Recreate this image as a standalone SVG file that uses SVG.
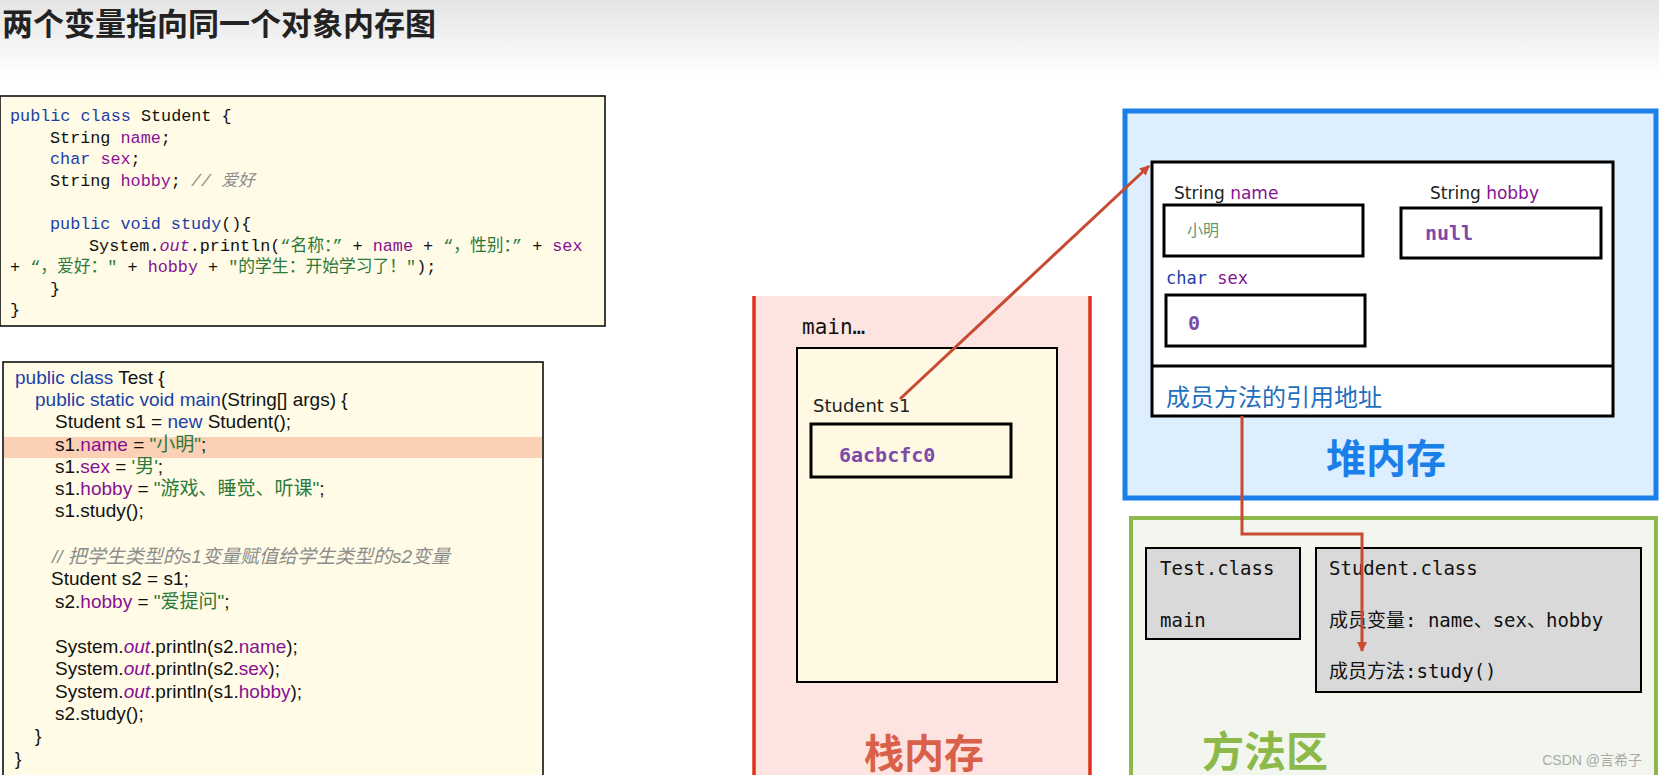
<svg xmlns="http://www.w3.org/2000/svg" width="1659" height="775" viewBox="0 0 1659 775">
<defs>
<linearGradient id="hdr" x1="0" y1="0" x2="0" y2="1"><stop offset="0" stop-color="#e4e4e4"/><stop offset="1" stop-color="#ffffff"/></linearGradient>
<marker id="ah" markerWidth="10" markerHeight="10" refX="9" refY="5" orient="auto" markerUnits="userSpaceOnUse" viewBox="0 0 10 10"><path d="M0,0 L10,5 L0,10 z" fill="#c84a30"/></marker>
</defs>
<style>
.mono{font-family:"Liberation Mono","DejaVu Sans Mono","Noto Sans CJK SC",monospace}
.dmono{font-family:"DejaVu Sans Mono","Noto Sans CJK SC",monospace}
.sans{font-family:"Liberation Sans",Arial,"Noto Sans CJK SC",sans-serif}
.dsans{font-family:"DejaVu Sans","Noto Sans CJK SC",sans-serif}
.cjk{font-family:"Noto Sans CJK SC",sans-serif}
.kw{fill:#1c3fa8}.fd{fill:#871094}.st{fill:#2b7a3b}.cm{fill:#8c8c8c;font-style:italic}
.code{font-size:16.8px;fill:#111}
.tcode{font-size:19px;fill:#111}
.blk{fill:none;stroke:#000;stroke-width:3}
.conn{fill:none;stroke:#c84a30;stroke-width:3}
</style>
<rect x="0" y="0" width="1659" height="775" fill="#fff"/>
<rect x="0" y="0" width="1659" height="75" fill="url(#hdr)"/>
<text x="2" y="35" class="cjk" font-size="31" font-weight="bold" fill="#222">两个变量指向同一个对象内存图</text>

<g id="student-code">
<rect x="0" y="96" width="605" height="230" fill="#fffbe6" stroke="#000" stroke-width="1.5"/>
<text class="mono code">
<tspan x="10" y="121"><tspan class="kw">public class</tspan> Student {</tspan>
<tspan x="50" y="142.5">String <tspan class="fd">name</tspan>;</tspan>
<tspan x="50" y="164"><tspan class="kw">char</tspan> <tspan class="fd">sex</tspan>;</tspan>
<tspan x="50" y="185.5">String <tspan class="fd">hobby</tspan>; <tspan class="cm">// 爱好</tspan></tspan>
<tspan x="50" y="229"><tspan class="kw">public void</tspan> <tspan class="kw">study</tspan>(){</tspan>
<tspan x="89" y="250.5">System.<tspan class="fd" font-style="italic">out</tspan>.println(<tspan class="st">“名称：”</tspan> + <tspan class="fd">name</tspan> + <tspan class="st">“，性别：”</tspan> + <tspan class="fd">sex</tspan></tspan>
<tspan x="10" y="272">+ <tspan class="st">“，爱好："</tspan> + <tspan class="fd">hobby</tspan> + <tspan class="st">"的学生：开始学习了！"</tspan>);</tspan>
<tspan x="50" y="293.5">}</tspan>
<tspan x="10" y="315">}</tspan>
</text>
</g>

<g id="test-code">
<rect x="3" y="362" width="540" height="420" fill="#fffbe6" stroke="#000" stroke-width="1.5"/>
<rect x="4" y="437" width="538" height="21" fill="#fcd0b4"/>
<text class="sans tcode">
<tspan x="15" y="384"><tspan class="kw">public class</tspan> Test {</tspan>
<tspan x="35" y="406"><tspan class="kw">public static void main</tspan>(String[] args) {</tspan>
<tspan x="55" y="428">Student s1 = <tspan class="kw">new</tspan> Student();</tspan>
<tspan x="55" y="451">s1.<tspan class="fd">name</tspan> = <tspan class="st">"小明"</tspan>;</tspan>
<tspan x="55" y="473">s1.<tspan class="fd">sex</tspan> = <tspan class="st">'男'</tspan>;</tspan>
<tspan x="55" y="495">s1.<tspan class="fd">hobby</tspan> = <tspan class="st">"游戏、睡觉、听课"</tspan>;</tspan>
<tspan x="55" y="517">s1.study();</tspan>
<tspan x="52" y="563" class="cm">// 把学生类型的s1变量赋值给学生类型的s2变量</tspan>
<tspan x="51" y="585">Student s2 = s1;</tspan>
<tspan x="55" y="608">s2.<tspan class="fd">hobby</tspan> = <tspan class="st">"爱提问"</tspan>;</tspan>
<tspan x="55" y="653">System.<tspan class="fd" font-style="italic">out</tspan>.println(s2.<tspan class="fd">name</tspan>);</tspan>
<tspan x="55" y="675">System.<tspan class="fd" font-style="italic">out</tspan>.println(s2.<tspan class="fd">sex</tspan>);</tspan>
<tspan x="55" y="698">System.<tspan class="fd" font-style="italic">out</tspan>.println(s1.<tspan class="fd">hobby</tspan>);</tspan>
<tspan x="55" y="720">s2.study();</tspan>
<tspan x="35" y="742">}</tspan>
<tspan x="15" y="765">}</tspan>
</text>
</g>

<g id="stack">
<rect x="753" y="296" width="338" height="485" fill="#fde4e1"/>
<line x1="754" y1="296" x2="754" y2="775" stroke="#e0301a" stroke-width="3.5"/>
<line x1="1090" y1="296" x2="1090" y2="775" stroke="#e0301a" stroke-width="3.5"/>
<text x="802" y="334" class="dmono" font-size="21" fill="#111">main…</text>
<rect x="797" y="348" width="260" height="334" fill="#fff9e3" stroke="#000" stroke-width="2"/>
<text x="813" y="412" class="dsans" font-size="18" fill="#222">Student s1</text>
<rect x="811" y="424" width="200" height="53" class="blk"/>
<text x="839" y="462" class="dmono" font-size="20" font-weight="bold" fill="#7c4aa8">6acbcfc0</text>
<text x="924" y="768" class="cjk" font-size="40" font-weight="bold" fill="#d9614a" text-anchor="middle">栈内存</text>
</g>

<g id="heap">
<rect x="1125" y="111" width="531" height="387" fill="#ddeeff" stroke="#1a7fe8" stroke-width="5"/>
<rect x="1152" y="162" width="461" height="254" fill="#fff" stroke="#000" stroke-width="3"/>
<line x1="1152" y1="366" x2="1613" y2="366" stroke="#000" stroke-width="3"/>
<text x="1174" y="199" class="dsans" font-size="17" fill="#222">String <tspan class="fd">name</tspan></text>
<rect x="1164" y="205" width="199" height="51" class="blk"/>
<text x="1187" y="236" class="cjk" font-size="16" fill="#5f9a72">小明</text>
<text x="1430" y="199" class="dsans" font-size="17" fill="#222">String <tspan class="fd">hobby</tspan></text>
<rect x="1401" y="208" width="200" height="50" class="blk"/>
<text x="1425" y="240" class="dmono" font-size="20" font-weight="bold" fill="#7c4aa8">null</text>
<text x="1166" y="284" class="dmono" font-size="17" fill="#1c3fa8">char <tspan class="fd">sex</tspan></text>
<rect x="1166" y="295" width="199" height="51" class="blk"/>
<text x="1188" y="330" class="dmono" font-size="20" font-weight="bold" fill="#7c4aa8">0</text>
<text x="1166" y="406" class="cjk" font-size="24" fill="#1f6fc0">成员方法的引用地址</text>
<text x="1386" y="473" class="cjk" font-size="40" font-weight="bold" fill="#1a7fe8" text-anchor="middle">堆内存</text>
</g>

<g id="method-area">
<rect x="1131" y="518" width="525" height="265" fill="#f3f6ee" stroke="#8db84a" stroke-width="4"/>
<rect x="1146" y="548" width="154" height="91" fill="#d9d9d9" stroke="#000" stroke-width="2"/>
<text x="1160" y="575" class="dmono" font-size="19" fill="#111">Test.class</text>
<text x="1160" y="627" class="dmono" font-size="19" fill="#111">main</text>
<rect x="1316" y="548" width="325" height="144" fill="#d9d9d9" stroke="#000" stroke-width="2"/>
<text x="1329" y="575" class="dmono" font-size="19" fill="#111">Student.class</text>
<text x="1329" y="627" class="dmono" font-size="19" fill="#111">成员变量: name、sex、hobby</text>
<text x="1329" y="678" class="dmono" font-size="19" fill="#111">成员方法:study()</text>
<text x="1265" y="767" class="cjk" font-size="42" font-weight="bold" fill="#8db84a" text-anchor="middle">方法区</text>
<text x="1642" y="765" class="sans" font-size="14" fill="#aaa" text-anchor="end">CSDN @言希子</text>
</g>

<g id="connectors">
<line x1="900" y1="399" x2="1149" y2="166" class="conn" marker-end="url(#ah)"/>
<polyline points="1242,416 1242,534 1362,534 1362,651" class="conn" marker-end="url(#ah)"/>
</g>
</svg>
